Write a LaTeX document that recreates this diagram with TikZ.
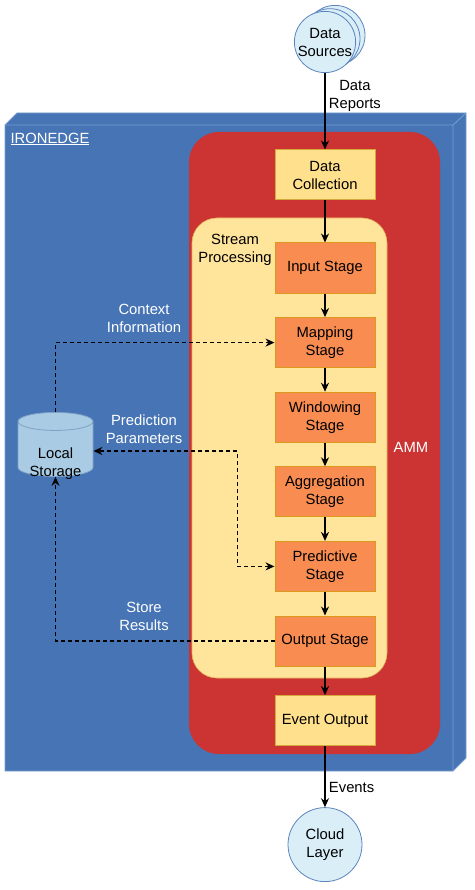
\documentclass[tikz,border=0pt]{standalone}
\usepackage{fontspec}
\setmainfont{Liberation Sans}
\usepackage{tikz}
\usetikzlibrary{shapes.geometric, arrows.meta}

\definecolor{edgeblue}{HTML}{4674B4}
\definecolor{edgeline}{HTML}{7A9DD0}
\definecolor{ammred}{HTML}{CC3434}
\definecolor{streamfill}{HTML}{FFE49C}
\definecolor{streamline}{HTML}{E3B35A}
\definecolor{collectfill}{HTML}{FFE08C}
\definecolor{collectline}{HTML}{D6A93A}
\definecolor{stagefill}{HTML}{F98C50}
\definecolor{stageline}{HTML}{D99A1E}
\definecolor{sourcefill}{HTML}{DAEEF8}
\definecolor{sourceline}{HTML}{5B84BD}
\definecolor{storefill}{HTML}{A9CBE3}
\definecolor{storeline}{HTML}{7FA2C8}

\tikzstyle{stage} = [rectangle, 
minimum width=100pt, 
minimum height=50pt, 
text centered, align=center, 
draw=stageline, line width=1pt, 
fill=stagefill]
\tikzstyle{iobox} = [stage, draw=collectline, fill=collectfill]
\tikzstyle{endcircle} = [circle, minimum size=60pt, inner sep=0pt, align=center, 
draw=sourceline, line width=0.8pt, fill=sourcefill]
\tikzstyle{flow} = [-{Stealth[length=9pt, width=8pt]}, line width=1.3pt]
\tikzstyle{ctx} = [flow, dash pattern=on 4pt off 3pt]
\tikzstyle{whitetext} = [text=white, align=center]

\begin{document}
\begin{tikzpicture}[x=1pt, y=-1pt, node distance=74.6pt, font=\fontsize{14.8}{18}\selectfont]
\useasboundingbox (0,0) rectangle (474,890);

% IronEdge device
\fill[edgeblue] (5,125) -- (17,113) -- (466,113) -- (466,758) -- (453,771) -- (5,771) -- cycle;
\draw[edgeline, line width=0.8pt] (5,125) -- (17,113) -- (466,113) -- (466,758) -- (453,771) -- (5,771) -- cycle;
\draw[edgeline, line width=0.8pt] (5,125) -- (453,125) -- (453,771) (453,125) -- (466,113);
\node (ironedge) [whitetext, anchor=west] at (7,139) {\underline{IRONEDGE}};

\node (amm) [rectangle, rounded corners=30pt, fill=ammred, minimum width=251pt, minimum height=622pt] at (314.5,443) {};
\node (ammlabel) [whitetext] at (411,447) {AMM};
\node (stream) [rectangle, rounded corners=25pt, fill=streamfill, draw=streamline, line width=0.6pt, minimum width=195pt, minimum height=460pt] at (289.5,448) {};
\node (streamlabel) [align=center] at (235,250) {Stream\\Processing};

\node (collect) [iobox] at (325,175) {Data\\Collection};
\node (input) [stage, below of=collect, yshift=-18.4pt] {Input Stage};
\node (mapping) [stage, below of=input] {Mapping\\Stage};
\node (window) [stage, below of=mapping] {Windowing\\Stage};
\node (aggr) [stage, below of=window] {Aggregation\\Stage};
\node (predict) [stage, below of=aggr] {Predictive\\Stage};
\node (output) [stage, below of=predict] {Output Stage};
\node (event) [iobox, below of=output, yshift=-5pt] {Event Output};

\node (src3) [endcircle, above of=collect, xshift=10pt, yshift=65pt] {};
\node (src2) [endcircle, above of=collect, xshift=5pt, yshift=61.7pt] {};
\node (sources) [endcircle, above of=collect, yshift=58.4pt] {Data\\Sources};
\node (cloud) [endcircle, minimum size=74pt, below of=event, yshift=-49.4pt] {Cloud\\Layer};

\node (storage) [cylinder, shape border rotate=90, aspect=2.7, minimum width=75pt, minimum height=64pt, 
draw=storeline, fill=storefill, line width=0.8pt] at (55.5,451) {};
\node (storagelabel) [align=center] at (55.5,464) {Local\\Storage};

\draw[flow] (sources) -- node[pos=0.3, right, align=center] {Data\\Reports} (collect);
\draw[flow] (collect) -- (input);
\draw[flow] (input) -- (mapping);
\draw[flow] (mapping) -- (window);
\draw[flow] (window) -- (aggr);
\draw[flow] (aggr) -- (predict);
\draw[flow] (predict) -- (output);
\draw[flow] (output) -- (event);
\draw[flow] (event) -- node[pos=0.68, right] {Events} (cloud);

\draw[ctx] (storage.north) |- (mapping.west);
\node (ctxlabel) [whitetext] at (144,318) {Context\\Information};
\draw[ctx, {Stealth[length=9pt, width=8pt]}-{Stealth[length=9pt, width=8pt]}] (predict.west) -- ++(-37,0) |- (storage.east);
\node (paramlabel) [whitetext] at (144,429) {Prediction\\Parameters};
\draw[ctx] (output.west) -| (storage.south);
\node (storelabel) [whitetext] at (144,616) {Store\\Results};

\end{tikzpicture}
\end{document}
